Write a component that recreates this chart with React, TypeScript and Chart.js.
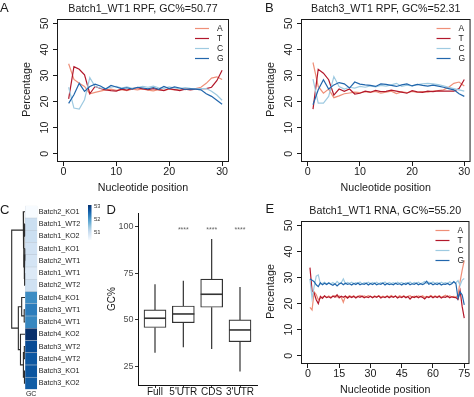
import React, { useEffect, useRef } from 'react';
import { Chart, registerables } from 'chart.js';

Chart.register(...registerables);

const FONT = '"Liberation Sans", Arial, Helvetica, sans-serif';
const INK = '#1a1a1a';
const CLEAR = 'rgba(0,0,0,0)';

// ---------------- Panels A, B, E : nucleotide composition ----------------
const NUCLEOTIDES = ['A', 'T', 'C', 'G'];
const NUC_COLORS = ['#ef8f78', '#b2182b', '#9ecae1', '#2166ac'];
const PCT_TICKS = [0, 10, 20, 30, 40, 50];
const RPF_POS_TICKS = [0, 10, 20, 30];
const RNA_POS_TICKS = [0, 15, 30, 45, 60, 75];

// Batch1_WT1 RPF (positions 1..30)
const RPF1_A = [34.5, 28.5, 27.0, 25.8, 23.0, 23.5, 24.0, 24.5, 24.8, 24.3, 24.6, 24.2, 24.8, 24.5, 24.9, 24.4, 24.1, 24.6, 24.3, 24.8, 24.5, 24.9, 24.6, 25.0, 25.0, 25.5, 27.0, 29.0, 29.5, 28.5];
const RPF1_T = [21.0, 33.4, 32.4, 30.3, 23.0, 25.8, 25.0, 24.5, 24.2, 24.0, 24.8, 24.4, 25.0, 25.3, 24.9, 24.6, 25.0, 24.6, 24.2, 25.0, 24.6, 24.2, 24.8, 24.5, 24.8, 25.0, 25.0, 25.5, 28.0, 32.0];
const RPF1_C = [25.5, 17.5, 17.1, 20.7, 29.2, 25.8, 25.2, 25.0, 25.5, 25.8, 25.2, 25.6, 25.1, 25.4, 25.8, 25.5, 25.9, 25.3, 25.1, 25.6, 25.2, 25.0, 25.4, 25.1, 24.9, 25.0, 25.0, 24.0, 22.5, 20.5];
const RPF1_G = [19.3, 22.6, 27.0, 23.9, 25.8, 26.7, 26.0, 24.8, 26.2, 25.6, 25.0, 25.3, 24.8, 25.5, 25.2, 24.9, 25.4, 24.7, 25.8, 25.0, 25.6, 25.2, 24.7, 24.9, 24.8, 24.5, 23.0, 22.0, 20.5, 19.0];

// Batch3_WT1 RPF (positions 1..30)
const RPF3_A = [35.0, 25.8, 23.2, 24.8, 21.5, 22.2, 23.0, 23.3, 23.6, 23.4, 23.8, 23.5, 23.9, 23.2, 23.6, 24.0, 23.1, 23.7, 23.4, 23.9, 23.5, 23.8, 23.6, 24.0, 24.2, 24.5, 25.5, 27.0, 27.5, 26.0];
const RPF3_T = [17.1, 32.4, 30.9, 28.4, 22.5, 24.8, 23.9, 24.8, 22.9, 23.2, 24.0, 23.6, 24.3, 23.8, 23.9, 24.4, 24.0, 23.6, 23.2, 24.2, 23.7, 23.5, 24.0, 23.8, 24.1, 24.0, 24.0, 24.0, 25.0, 28.5];
const RPF3_C = [28.6, 19.4, 19.4, 22.0, 29.6, 25.8, 24.8, 25.5, 25.2, 25.8, 25.5, 26.0, 25.6, 26.2, 25.9, 26.4, 27.0, 25.8, 26.3, 26.0, 26.5, 26.8, 27.0, 26.8, 26.5, 26.0, 25.5, 25.0, 24.5, 24.0];
const RPF3_G = [18.8, 24.5, 28.4, 24.8, 26.4, 27.3, 26.8, 25.2, 27.5, 26.7, 26.4, 26.2, 25.8, 26.8, 26.6, 26.2, 25.8, 26.4, 26.8, 26.0, 26.6, 26.2, 25.9, 26.3, 25.9, 25.5, 25.0, 24.5, 23.0, 22.0];

// Batch1_WT1 RNA (positions 1..75)
const RNA_A = [
  18.5, 17.5, 24.5, 23.5, 21.5, 22.0, 22.5, 22.8, 22.3, 22.9,
  22.4, 22.8, 23.0, 22.5, 22.9, 22.4, 20.5, 22.8, 22.5, 23.0,
  22.6, 22.9, 22.4, 22.8, 23.1, 22.5, 22.9, 22.6, 23.0, 22.7,
  22.4, 22.9, 22.6, 23.0, 22.5, 22.8, 22.4, 22.9, 22.6, 23.1,
  22.5, 22.8, 22.4, 23.0, 22.6, 22.9, 22.5, 22.8, 23.0, 22.4,
  22.8, 22.5, 22.9, 22.6, 23.0, 22.4, 22.8, 22.6, 23.1, 22.5,
  22.9, 22.6, 23.0, 22.4, 22.8, 23.2, 22.5, 22.9, 22.6, 22.8,
  22.5, 23.3, 28.4, 32.8, 36.6];
const RNA_T = [
  33.8, 25.0, 24.0, 21.5, 20.0, 22.8, 22.0, 23.0, 22.3, 22.6,
  22.1, 22.9, 22.4, 23.4, 22.2, 22.8, 22.4, 22.9, 22.1, 22.7,
  22.3, 22.8, 22.1, 22.7, 22.4, 22.9, 22.2, 22.6, 22.3, 22.8,
  22.2, 22.7, 22.4, 22.9, 22.1, 22.6, 22.3, 22.8, 22.2, 22.7,
  22.4, 22.9, 22.1, 22.6, 22.3, 22.8, 22.2, 22.7, 21.7, 22.6,
  22.3, 22.8, 22.2, 22.7, 22.4, 21.8, 22.6, 22.3, 22.8, 22.2,
  22.7, 22.3, 22.8, 22.1, 22.6, 22.4, 22.9, 22.2, 22.6, 22.4,
  22.3, 21.6, 25.0, 18.8, 14.4];
const RNA_C = [
  29.5, 22.0, 26.5, 30.5, 31.0, 27.5, 27.8, 28.2, 27.5, 28.0,
  27.6, 28.1, 27.4, 28.5, 27.7, 28.0, 29.5, 27.6, 28.1, 27.8,
  28.2, 27.6, 28.0, 27.7, 28.3, 27.5, 28.0, 27.8, 28.2, 27.6,
  28.1, 27.7, 28.2, 27.6, 28.0, 27.8, 28.3, 27.5, 28.1, 27.7,
  28.0, 27.6, 28.2, 27.8, 28.1, 27.5, 28.0, 27.7, 28.3, 27.6,
  28.1, 27.8, 28.2, 27.6, 28.0, 28.5, 27.7, 28.2, 27.9, 28.3,
  27.8, 28.1, 27.6, 28.2, 27.8, 28.0, 27.7, 28.4, 27.9, 28.2,
  28.0, 28.8, 27.0, 29.0, 29.6];
const RNA_G = [
  29.5, 29.0, 28.4, 27.2, 26.5, 28.0, 27.2, 27.8, 27.3, 27.9,
  27.4, 27.0, 27.6, 26.8, 27.5, 27.9, 27.2, 27.8, 27.4, 27.6,
  27.1, 27.7, 27.3, 27.9, 27.2, 27.6, 27.4, 27.8, 27.1, 27.7,
  27.3, 27.8, 27.2, 27.6, 27.4, 27.9, 27.1, 27.7, 27.3, 27.5,
  27.2, 27.8, 27.4, 27.6, 27.1, 27.7, 27.3, 27.9, 27.2, 27.6,
  27.4, 27.8, 27.2, 27.6, 27.3, 27.7, 28.6, 27.4, 27.8, 27.2,
  27.6, 27.3, 27.8, 27.1, 27.5, 27.4, 27.7, 27.2, 27.6, 28.4,
  27.6, 22.0, 24.5, 23.3, 19.5];

// ---------------- Panel C : GC heatmap with clustering ----------------
const HM_ROWS = ['Batch2_KO1', 'Batch1_WT2', 'Batch1_KO2', 'Batch1_KO1', 'Batch2_WT1', 'Batch1_WT1', 'Batch2_WT2', 'Batch4_KO1', 'Batch3_WT1', 'Batch4_WT1', 'Batch4_KO2', 'Batch3_WT2', 'Batch4_WT2', 'Batch3_KO1', 'Batch3_KO2'];
const HM_GC = [50.40, 51.00, 51.00, 50.92, 50.88, 50.77, 50.95, 52.15, 52.31, 52.20, 53.10, 52.82, 52.70, 52.72, 52.64];
const HM_LEGEND_TICKS = [51, 52, 53];
// merge tree: [height, left, right]; leaves are row indices
const DENDRO: any = [1.0,
  [0.13, 0, [0.09, [0.03, 1, 2], [0.06, [0.02, 3, 4], [0.03, 5, 6]]]],
  [0.5, [0.25, 7, [0.06, 8, 9]], [0.34, 10, [0.12, [0.05, 11, 12], [0.04, 13, 14]]]]];
const BLUES = ['#f7fbff', '#deebf7', '#c6dbef', '#9ecae1', '#6baed6', '#4292c6', '#2171b5', '#08519c', '#08306b'];

// ---------------- Panel D : GC% box plot ----------------
const BOX_CATS = ['Full', "5'UTR", 'CDS', "3'UTR"];
const BOX_MIN = [32.4, 35.3, 34.4, 22.2];
const BOX_Q1 = [45.9, 48.5, 56.8, 38.3];
const BOX_MED = [50.9, 53.2, 63.8, 44.6];
const BOX_Q3 = [55.4, 57.5, 71.9, 50.0];
const BOX_MAX = [69.2, 71.0, 93.5, 67.7];
const SIG_LABELS = ['', '****', '****', '****'];
const SIG_Y = 98.8;
const GC_TICKS = [25, 50, 75, 100];

// ---------------- helpers ----------------
function hexToRgb(h: string) {
  const n = parseInt(h.slice(1), 16);
  return [(n >> 16) & 255, (n >> 8) & 255, n & 255];
}
const HM_LO = Math.min(...HM_GC);
const HM_HI = Math.max(...HM_GC);
function blueFor(v: number) {
  const t = Math.max(0, Math.min(1, (v - HM_LO) / (HM_HI - HM_LO)));
  const p = t * (BLUES.length - 1);
  const i = Math.min(BLUES.length - 2, Math.floor(p));
  const f = p - i;
  const a = hexToRgb(BLUES[i]);
  const b = hexToRgb(BLUES[i + 1]);
  const c = a.map((x, k) => Math.round(x + (b[k] - x) * f));
  return `rgb(${c[0]},${c[1]},${c[2]})`;
}

function ChartCanvas(props: { left: number; top: number; w: number; h: number; make: (c: HTMLCanvasElement) => Chart }) {
  const ref = useRef<HTMLCanvasElement | null>(null);
  useEffect(() => {
    const chart = props.make(ref.current as HTMLCanvasElement);
    return () => chart.destroy();
  }, []);
  return (
    <canvas
      ref={ref}
      width={props.w}
      height={props.h}
      style={{ position: 'absolute', left: props.left, top: props.top, width: props.w, height: props.h, display: 'block' }}
    />
  );
}

type LineSpec = {
  title: string;
  series: number[][];
  xTicks: number[];
  xMin: number;
  xMax: number;
  left: number;
  top: number;
  w: number;
  h: number;
  box: { l: number; t: number; r: number; b: number };
};

const PANEL_A: LineSpec = {
  title: 'Batch1_WT1 RPF, GC%=50.77',
  series: [RPF1_A, RPF1_T, RPF1_C, RPF1_G],
  xTicks: RPF_POS_TICKS, xMin: -1.2, xMax: 31.3,
  left: 0, top: 0, w: 237, h: 200,
  box: { l: 57, t: 19, r: 229, b: 162 },
};
const PANEL_B: LineSpec = {
  title: 'Batch3_WT1 RPF, GC%=52.31',
  series: [RPF3_A, RPF3_T, RPF3_C, RPF3_G],
  xTicks: RPF_POS_TICKS, xMin: -1.3, xMax: 31.2,
  left: 237, top: 0, w: 237, h: 200,
  box: { l: 64, t: 19, r: 236, b: 162 },
};
const PANEL_E: LineSpec = {
  title: 'Batch1_WT1 RNA, GC%=55.20',
  series: [RNA_A, RNA_T, RNA_C, RNA_G],
  xTicks: RNA_POS_TICKS, xMin: -3.3, xMax: 77.5,
  left: 237, top: 200, w: 237, h: 197,
  box: { l: 64, t: 21, r: 235, b: 164 },
};

function makeLineChart(canvas: HTMLCanvasElement, s: LineSpec) {
  const { box, w, h } = s;
  const tickGrid = { display: true, drawOnChartArea: false, drawTicks: true, tickLength: 4, color: INK, lineWidth: 1 };
  const decor = {
    id: 'decor',
    afterDraw(chart: any) {
      const { ctx, chartArea: a } = chart;
      const xS = chart.scales.x;
      const yS = chart.scales.y;
      ctx.save();
      ctx.strokeStyle = INK;
      ctx.lineWidth = 1;
      ctx.strokeRect(a.left + 0.5, a.top + 0.5, a.right - a.left - 1, a.bottom - a.top - 1);
      ctx.fillStyle = INK;
      ctx.textAlign = 'center';
      ctx.textBaseline = 'middle';
      ctx.font = `10.7px ${FONT}`;
      ctx.fillText(s.title, (a.left + a.right) / 2, a.top - 9.5);
      ctx.fillText('Nucleotide position', (a.left + a.right) / 2, a.bottom + 26);
      xS.ticks.forEach((t: any) => {
        ctx.fillText(String(t.value), xS.getPixelForValue(t.value), a.bottom + 10.5);
      });
      yS.ticks.forEach((t: any) => {
        ctx.save();
        ctx.translate(a.left - 11.5, yS.getPixelForValue(t.value));
        ctx.rotate(-Math.PI / 2);
        ctx.fillText(String(t.value), 0, 0);
        ctx.restore();
      });
      ctx.save();
      ctx.translate(a.left - 29.5, (a.top + a.bottom) / 2 - 1);
      ctx.rotate(-Math.PI / 2);
      ctx.fillText('Percentage', 0, 0);
      ctx.restore();
      ctx.font = `8.5px ${FONT}`;
      ctx.textAlign = 'left';
      chart.data.datasets.forEach((ds: any, i: number) => {
        const ly = a.top + 9.5 + i * 10;
        ctx.strokeStyle = ds.borderColor;
        ctx.lineWidth = 1.2;
        ctx.beginPath();
        ctx.moveTo(a.right - 34, ly);
        ctx.lineTo(a.right - 20, ly);
        ctx.stroke();
        ctx.fillStyle = INK;
        ctx.fillText(ds.label, a.right - 12, ly);
      });
      ctx.restore();
    },
  };
  return new Chart(canvas, {
    type: 'line',
    data: {
      datasets: s.series.map((vals, k) => ({
        label: NUCLEOTIDES[k],
        data: vals.map((v, i) => ({ x: i + 1, y: v })),
        borderColor: NUC_COLORS[k],
        backgroundColor: NUC_COLORS[k],
        borderWidth: 1.2,
        pointRadius: 0,
        tension: 0,
        fill: false,
        order: s.series.length - k,
      })),
    },
    options: {
      animation: false,
      responsive: false,
      maintainAspectRatio: false,
      events: [],
      layout: { padding: { left: 0, top: box.t, right: w - box.r, bottom: 0 } },
      plugins: { legend: { display: false }, tooltip: { enabled: false }, title: { display: false } },
      scales: {
        x: {
          type: 'linear', min: s.xMin, max: s.xMax,
          afterBuildTicks: (sc: any) => { sc.ticks = s.xTicks.map((v) => ({ value: v })); },
          afterFit: (sc: any) => { sc.height = h - box.b; },
          grid: tickGrid, border: { display: false },
          ticks: { color: CLEAR, maxRotation: 0, autoSkip: false },
        },
        y: {
          type: 'linear', min: -3.2, max: 51.7,
          afterBuildTicks: (sc: any) => { sc.ticks = PCT_TICKS.map((v) => ({ value: v })); },
          afterFit: (sc: any) => { sc.width = box.l; },
          grid: tickGrid, border: { display: false },
          ticks: { color: CLEAR, autoSkip: false },
        },
      },
    } as any,
    plugins: [decor],
  });
}

// dendrogram segments from merge tree
function dendroSegments(node: any, out: { x: number; y: number }[][]): { pos: number; h: number } {
  if (typeof node === 'number') return { pos: node, h: 0 };
  const [hgt, L, R] = node;
  const l = dendroSegments(L, out);
  const r = dendroSegments(R, out);
  out.push([
    { x: l.h, y: l.pos },
    { x: hgt, y: l.pos },
    { x: hgt, y: r.pos },
    { x: r.h, y: r.pos },
  ]);
  return { pos: (l.pos + r.pos) / 2, h: hgt };
}

function makeDendro(canvas: HTMLCanvasElement) {
  const segs: { x: number; y: number }[][] = [];
  dendroSegments(DENDRO, segs);
  return new Chart(canvas, {
    type: 'scatter',
    data: {
      datasets: segs.map((seg) => ({
        data: seg,
        showLine: true,
        borderColor: '#2b2b2b',
        borderWidth: 1.1,
        pointRadius: 0,
        clip: false,
      })),
    },
    options: {
      animation: false,
      responsive: false,
      events: [],
      layout: { padding: { left: 11.7, top: 5.6, right: 2, bottom: 7.6 } },
      plugins: { legend: { display: false }, tooltip: { enabled: false } },
      scales: {
        x: { type: 'linear', min: 0, max: 1, reverse: true, display: false },
        y: { type: 'linear', min: -0.5, max: HM_ROWS.length - 0.5, reverse: true, display: false },
      },
    } as any,
  });
}

function makeHeatmap(canvas: HTMLCanvasElement) {
  const decor = {
    id: 'hmDecor',
    afterDraw(chart: any) {
      const { ctx, chartArea: a } = chart;
      ctx.save();
      // colour key
      const kx = 88, kw = 3.5, kTop = 5, kBot = 40;
      const yOf = (v: number) => kTop + ((HM_HI - v) / (HM_HI - HM_LO)) * (kBot - kTop);
      const g = ctx.createLinearGradient(0, kTop, 0, kBot);
      for (let i = 0; i <= 20; i++) {
        const v = HM_HI - (i / 20) * (HM_HI - HM_LO);
        g.addColorStop(i / 20, blueFor(v));
      }
      ctx.fillStyle = g;
      ctx.fillRect(kx, kTop, kw, kBot - kTop);
      ctx.fillStyle = '#333';
      ctx.font = `6px ${FONT}`;
      ctx.textAlign = 'left';
      ctx.textBaseline = 'middle';
      HM_LEGEND_TICKS.forEach((v) => ctx.fillText(String(v), kx + kw + 2.5, yOf(v)));
      // column label
      ctx.font = `7px ${FONT}`;
      ctx.textAlign = 'center';
      ctx.fillStyle = INK;
      ctx.fillText('GC', (a.left + a.right) / 2, a.bottom + 4.5);
      ctx.restore();
    },
  };
  return new Chart(canvas, {
    type: 'bar',
    data: {
      labels: HM_ROWS,
      datasets: [{
        data: HM_GC.map(() => 1),
        backgroundColor: HM_GC.map((v) => blueFor(v)),
        borderColor: 'rgba(150,165,185,0.55)',
        borderWidth: 0.6,
        borderSkipped: false,
        categoryPercentage: 1,
        barPercentage: 1,
      }],
    },
    options: {
      indexAxis: 'y',
      animation: false,
      responsive: false,
      events: [],
      layout: { padding: { left: 25, top: 5.6, right: 0, bottom: 7.6 } },
      plugins: { legend: { display: false }, tooltip: { enabled: false } },
      scales: {
        x: { type: 'linear', min: 0, max: 1, display: false },
        y: {
          type: 'category', position: 'right',
          afterFit: (sc: any) => { sc.width = 62.7; },
          grid: { display: false, drawTicks: false, tickLength: 0 }, border: { display: false },
          ticks: { font: { family: FONT, size: 7.2 }, color: INK, padding: 1.5, autoSkip: false },
        },
      },
    } as any,
    plugins: [decor],
  });
}

function makeBox(canvas: HTMLCanvasElement) {
  const tickGrid = { display: true, drawOnChartArea: false, drawTicks: true, tickLength: 3, color: '#333', lineWidth: 1, offset: false };
  const decor = {
    id: 'boxDecor',
    afterDatasetsDraw(chart: any) {
      const { ctx } = chart;
      const xS = chart.scales.x;
      const yS = chart.scales.y;
      ctx.save();
      ctx.strokeStyle = '#333';
      BOX_CATS.forEach((_, i) => {
        const cx = xS.getPixelForValue(i + 1);
        ctx.lineWidth = 1.2;
        ctx.beginPath();
        ctx.moveTo(cx, yS.getPixelForValue(BOX_Q3[i]));
        ctx.lineTo(cx, yS.getPixelForValue(BOX_MAX[i]));
        ctx.moveTo(cx, yS.getPixelForValue(BOX_Q1[i]));
        ctx.lineTo(cx, yS.getPixelForValue(BOX_MIN[i]));
        ctx.stroke();
        ctx.lineWidth = 1.6;
        ctx.beginPath();
        ctx.moveTo(cx - 11, yS.getPixelForValue(BOX_MED[i]));
        ctx.lineTo(cx + 11, yS.getPixelForValue(BOX_MED[i]));
        ctx.stroke();
      });
      ctx.fillStyle = '#666';
      ctx.font = `7px ${FONT}`;
      ctx.textAlign = 'center';
      ctx.textBaseline = 'middle';
      SIG_LABELS.forEach((lab, i) => {
        if (lab) ctx.fillText(lab, xS.getPixelForValue(i + 1), yS.getPixelForValue(SIG_Y) + 1);
      });
      ctx.restore();
    },
    afterDraw(chart: any) {
      const { ctx, chartArea: a } = chart;
      const xS = chart.scales.x;
      const yS = chart.scales.y;
      ctx.save();
      ctx.textBaseline = 'middle';
      ctx.font = `9px ${FONT}`;
      ctx.fillStyle = '#4d4d4d';
      ctx.textAlign = 'right';
      yS.ticks.forEach((t: any) => ctx.fillText(String(t.value), a.left - 4.5, yS.getPixelForValue(t.value)));
      ctx.font = `10px ${FONT}`;
      ctx.fillStyle = INK;
      ctx.textAlign = 'center';
      xS.ticks.forEach((t: any) => ctx.fillText(BOX_CATS[t.value - 1], xS.getPixelForValue(t.value), a.bottom + 7));
      ctx.save();
      ctx.translate(12, (a.top + a.bottom) / 2);
      ctx.rotate(-Math.PI / 2);
      ctx.fillText('GC%', 0, 0);
      ctx.restore();
      ctx.restore();
    },
  };
  return new Chart(canvas, {
    type: 'bar',
    data: {
      datasets: [{
        data: BOX_CATS.map((_, i) => ({ x: i + 1, y: [BOX_Q1[i], BOX_Q3[i]] })),
        backgroundColor: '#ffffff',
        borderColor: '#333333',
        borderWidth: 1.2,
        borderSkipped: false,
        barThickness: 22,
      }],
    },
    options: {
      animation: false,
      responsive: false,
      events: [],
      layout: { padding: { left: 0, top: 13, right: 3, bottom: 0 } },
      plugins: { legend: { display: false }, tooltip: { enabled: false } },
      scales: {
        x: {
          type: 'linear', min: 0.4, max: 4.6, offset: false,
          afterBuildTicks: (sc: any) => { sc.ticks = BOX_CATS.map((_, i) => ({ value: i + 1 })); },
          afterFit: (sc: any) => { sc.height = 12; },
          grid: tickGrid, border: { display: true, color: '#111', width: 1 },
          ticks: { color: CLEAR, autoSkip: false, maxRotation: 0 },
        },
        y: {
          type: 'linear', min: 15, max: 107.5,
          afterBuildTicks: (sc: any) => { sc.ticks = GC_TICKS.map((v) => ({ value: v })); },
          afterFit: (sc: any) => { sc.width = 38; },
          grid: tickGrid, border: { display: true, color: '#111', width: 1 },
          ticks: { color: CLEAR, autoSkip: false },
        },
      },
    } as any,
    plugins: [decor],
  });
}

const LETTERS = [
  { t: 'A', left: 0, top: 1.3 },
  { t: 'B', left: 265, top: 1.3 },
  { t: 'C', left: 0, top: 203.3 },
  { t: 'D', left: 106.5, top: 203.3 },
  { t: 'E', left: 265.5, top: 201.5 },
];

export default function App() {
  return (
    <div style={{ position: 'absolute', left: 0, top: 0, width: 474, height: 397, background: '#ffffff', overflow: 'hidden' }}>
      {[PANEL_A, PANEL_B, PANEL_E].map((p) => (
        <ChartCanvas key={p.title} left={p.left} top={p.top} w={p.w} h={p.h} make={(c) => makeLineChart(c, p)} />
      ))}
      <ChartCanvas left={0} top={200} w={100} h={197} make={makeHeatmap} />
      <ChartCanvas left={0} top={200} w={27} h={197} make={makeDendro} />
      <ChartCanvas left={100} top={200} w={160} h={197} make={makeBox} />
      {LETTERS.map((l) => (
        <div key={l.t} style={{ position: 'absolute', left: l.left, top: l.top, fontFamily: FONT, fontSize: 13, lineHeight: '13px', color: INK }}>
          {l.t}
        </div>
      ))}
    </div>
  );
}
